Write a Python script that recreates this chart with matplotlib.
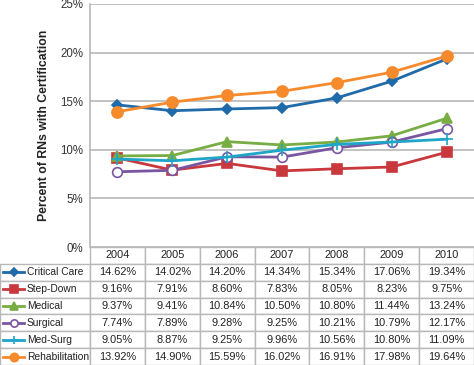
import matplotlib.pyplot as plt
from matplotlib.lines import Line2D

plt.rcParams['font.family'] = ['Liberation Sans', 'DejaVu Sans']

years = ["2004", "2005", "2006", "2007", "2008", "2009", "2010"]
series = ["Critical Care", "Step-Down", "Medical", "Surgical", "Med-Surg", "Rehabilitation"]
critical_care = [14.62, 14.02, 14.20, 14.34, 15.34, 17.06, 19.34]
step_down = [9.16, 7.91, 8.60, 7.83, 8.05, 8.23, 9.75]
medical = [9.37, 9.41, 10.84, 10.50, 10.80, 11.44, 13.24]
surgical = [7.74, 7.89, 9.28, 9.25, 10.21, 10.79, 12.17]
med_surg = [9.05, 8.87, 9.25, 9.96, 10.56, 10.80, 11.09]
rehab = [13.92, 14.90, 15.59, 16.02, 16.91, 17.98, 19.64]
values = [critical_care, step_down, medical, surgical, med_surg, rehab]

colors = ["#1f6aa8", "#c9383c", "#78ad44", "#7a56a2", "#1da6c8", "#f68a2c"]
markers = ["D", "s", "^", "o", "+", "o"]
msizes = [5, 7, 7, 7, 8, 8]

W, H = 474, 365
fig = plt.figure(figsize=(W / 100, H / 100), dpi=100)
ax = fig.add_axes([90 / W, 1 - 247 / H, 384 / W, 243 / H])

x = list(range(len(years)))
for i, (vals, c, m, ms) in enumerate(zip(values, colors, markers, msizes)):
    mfc = "white" if i == 3 else c
    ax.plot(x, vals, color=c, lw=2, marker=m, ms=ms, mfc=mfc, mec=c, mew=1.2, zorder=3)

ax.set_xlim(-0.5, len(years) - 0.5)
ax.set_ylim(0, 25)
ax.set_yticks([0, 5, 10, 15, 20, 25])
ax.set_yticklabels([f"{t}%" for t in [0, 5, 10, 15, 20, 25]], fontsize=8.3, color="#333333")
ax.tick_params(axis="y", length=0, pad=5)
ax.set_xticks([])
ax.grid(axis="y", color="#b8b8b8", lw=1.2)
ax.set_axisbelow(True)
for s in ["top", "right", "bottom"]:
    ax.spines[s].set_visible(False)
ax.spines["left"].set_color("#b8b8b8")
ax.spines["left"].set_linewidth(1.2)
ax.set_ylabel("Percent of RNs with Certification", fontsize=8.8, fontweight="bold",
              color="#222222", labelpad=7)

cell_text = [[name] + [f"{v:.2f}%" for v in vals] for name, vals in zip(series, values)]
col_w = [90 / W] + [384 / 7 / W] * len(years)
table = ax.table(cellText=cell_text, colLabels=[""] + years, colWidths=col_w,
                 cellLoc="center",
                 bbox=[-90 / 384, -118 / 243, 474 / 384, 118 / 243])
table.auto_set_font_size(False)
table.set_fontsize(7.9)
for (r, c), cell in table.get_celld().items():
    cell.set_edgecolor("#b8b8b8")
    cell.set_linewidth(1.0)
    cell.get_text().set_color("#222222")
    if c == 0:
        cell.get_text().set_ha("left")
        cell.get_text().set_fontsize(7.4)
        cell._loc = "left"
        cell.PAD = 0.30
        if r == 0:
            cell.visible_edges = ""

row_h = 118 / 7
for i, (c, m, ms) in enumerate(zip(colors, markers, msizes)):
    yc = 1 - (247 + row_h * (i + 1.5)) / H
    mfc = "white" if i == 3 else c
    fig.add_artist(Line2D([3 / W, 24 / W], [yc, yc], color=c, lw=2,
                          transform=fig.transFigure))
    fig.add_artist(Line2D([13.5 / W], [yc], color=c, marker=m, ms=ms * 0.75, mfc=mfc,
                          mec=c, mew=1.2, transform=fig.transFigure))

fig.savefig("out.png", dpi=100)
